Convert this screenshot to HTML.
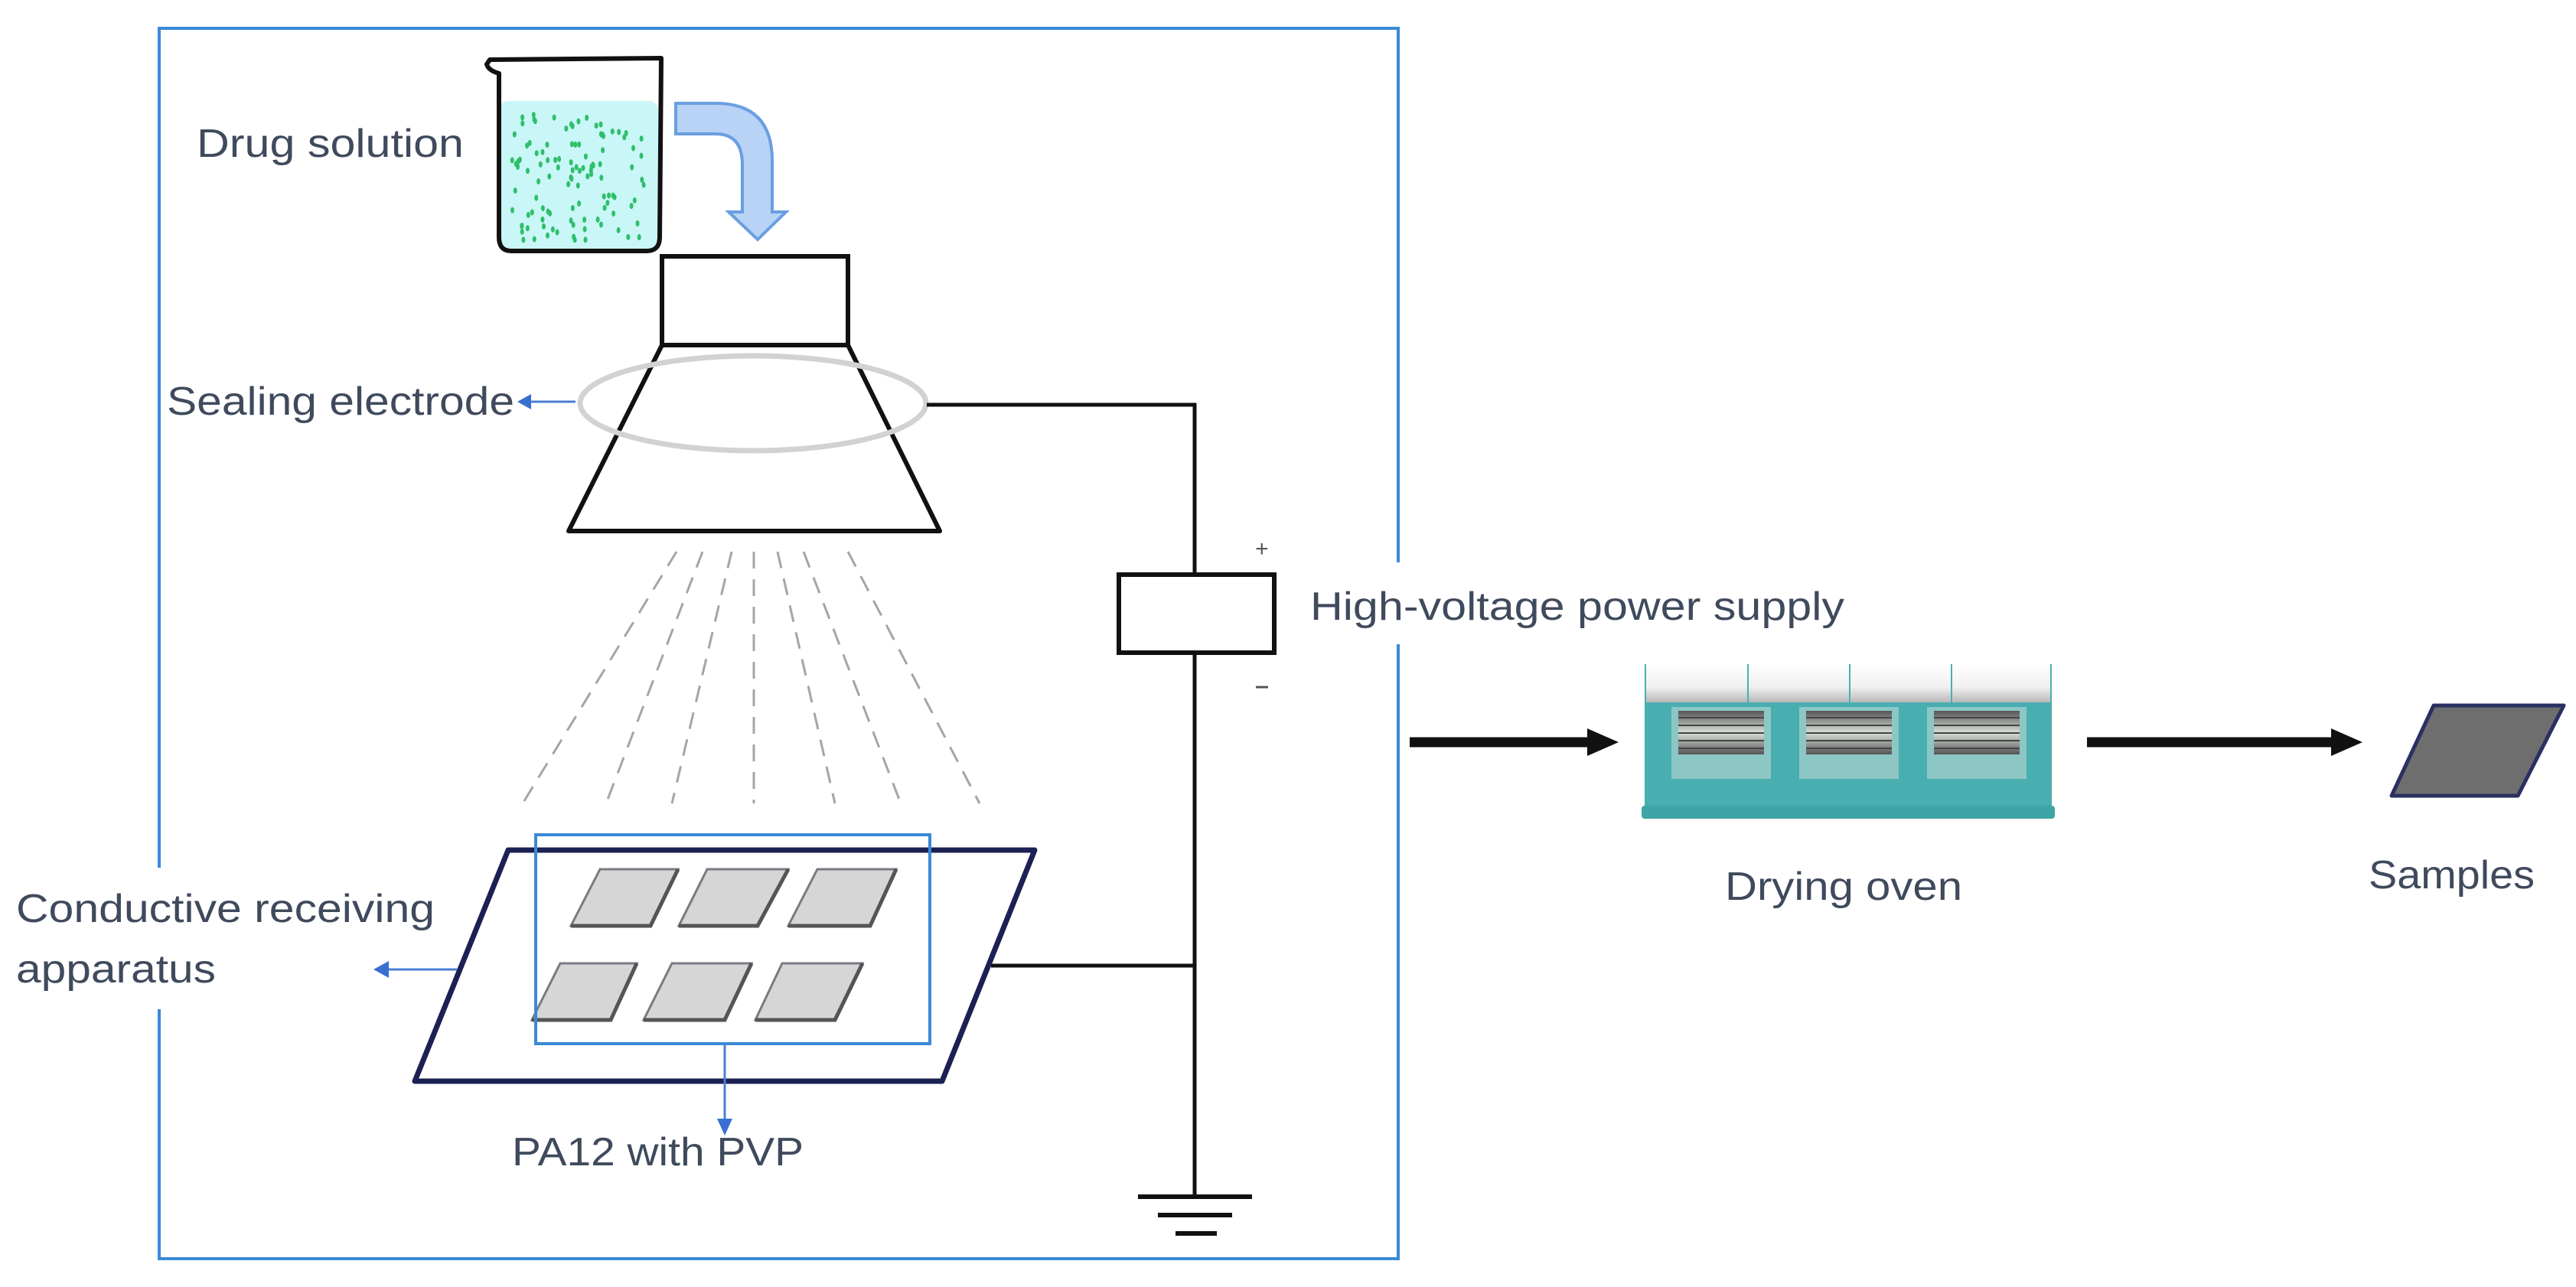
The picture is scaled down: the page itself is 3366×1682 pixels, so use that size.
<!DOCTYPE html>
<html><head><meta charset="utf-8"><style>
html,body{margin:0;padding:0;background:#fff;}
svg{display:block;}
text{font-family:"Liberation Sans",sans-serif;fill:#3f4a5c;}
</style></head><body>
<svg id="s" width="3366" height="1682" viewBox="0 0 3366 1682" xmlns="http://www.w3.org/2000/svg">
<defs>
<linearGradient id="wg" x1="0" y1="0" x2="0" y2="1"><stop offset="0" stop-color="#ffffff"/><stop offset="0.6" stop-color="#f0f0f0"/><stop offset="1" stop-color="#b8b8b8"/></linearGradient>
<linearGradient id="sl" x1="0" y1="0" x2="0" y2="1"><stop offset="0" stop-color="#555"/><stop offset="0.5" stop-color="#d8e0d8"/><stop offset="1" stop-color="#555"/></linearGradient>
</defs>
<!-- outer box -->
<rect x="208" y="37" width="1619" height="1608" fill="none" stroke="#3a8ad6" stroke-width="4"/>
<!-- beaker -->
<rect x="652" y="132" width="208" height="194" rx="12" fill="#c9f7f7"/>
<path d="M640 78 L864 76 L862 310 Q862 328 845 328 L668 328 Q652 328 652 310 L652 96 Q638 92 636 84 Z" fill="none" stroke="#111" stroke-width="6" stroke-linejoin="round"/>
<g id="dots" fill="#2fbf6a"></g>
<!-- curved arrow -->
<path d="M883 135 L935 135 Q1009 135 1009 210 L1009 277 L1027 277 L990 313 L952 277 L970 277 L970 215 Q970 175 935 175 L883 175 Z" fill="#b8d3f5" stroke="#6a9fe0" stroke-width="4"/>
<!-- nozzle -->
<rect x="865" y="335" width="243" height="116" fill="#fff" stroke="#111" stroke-width="6"/>
<path d="M865 451 L1108 451 L1228 694 L743 694 Z" fill="none" stroke="#111" stroke-width="6" stroke-linejoin="round"/>
<ellipse cx="984" cy="527" rx="226" ry="62" fill="none" stroke="#d2d2d2" stroke-width="7"/>
<!-- sealing arrow -->
<line x1="752" y1="525" x2="690" y2="525" stroke="#4a7fd4" stroke-width="3"/>
<path d="M676 525 L694 515 L694 535 Z" fill="#3a6fd0"/>
<!-- wires -->
<polyline points="1211,529 1561,529 1561,751" fill="none" stroke="#111" stroke-width="5"/>
<rect x="1462" y="751" width="203" height="102" fill="#fff" stroke="#111" stroke-width="6"/>
<line x1="1561" y1="853" x2="1561" y2="1564" stroke="#111" stroke-width="5"/>
<line x1="1295" y1="1262" x2="1561" y2="1262" stroke="#111" stroke-width="5"/>
<line x1="1487" y1="1564" x2="1636" y2="1564" stroke="#111" stroke-width="6"/>
<line x1="1513" y1="1588" x2="1610" y2="1588" stroke="#111" stroke-width="6"/>
<line x1="1536" y1="1612" x2="1590" y2="1612" stroke="#111" stroke-width="6"/>
<text x="1640" y="727" style="font-size:30px;fill:#555">+</text>
<line x1="1641" y1="898" x2="1657" y2="898" stroke="#555" stroke-width="3"/>
<!-- dashed spray -->
<g stroke="#a5a5a5" stroke-width="3" stroke-dasharray="22 14">
<line x1="884" y1="721" x2="683" y2="1050"/><line x1="918" y1="721" x2="792" y2="1050"/>
<line x1="956" y1="721" x2="878" y2="1050"/><line x1="985" y1="721" x2="985" y2="1050"/>
<line x1="1016" y1="721" x2="1091" y2="1050"/><line x1="1050" y1="721" x2="1177" y2="1050"/>
<line x1="1108" y1="721" x2="1280" y2="1050"/>
</g>
<!-- label backgrounds over box lines -->
<rect x="196" y="1134" width="26" height="185" fill="#fff"/>
<rect x="1815" y="735" width="26" height="107" fill="#fff"/>
<!-- plate -->
<path d="M664 1111 L1352 1111 L1231 1413 L542 1413 Z" fill="#fff" stroke="#1b2152" stroke-width="7" stroke-linejoin="round"/>
<g fill="#d6d6d6" stroke="#7a7a84" stroke-width="3">
<path d="M784 1136 L886 1136 L850 1210 L746 1210 Z"/><path d="M924 1136 L1030 1136 L990 1210 L887 1210 Z"/><path d="M1068 1136 L1171 1136 L1137 1210 L1030 1210 Z"/>
<path d="M732 1259 L832 1259 L798 1333 L695 1333 Z"/><path d="M878 1259 L982 1259 L947 1333 L841 1333 Z"/><path d="M1022 1259 L1127 1259 L1091 1333 L987 1333 Z"/>
</g>
<g fill="none" stroke="#555" stroke-width="5">
<path d="M886 1136 L850 1210 L746 1210"/><path d="M1030 1136 L990 1210 L887 1210"/><path d="M1171 1136 L1137 1210 L1030 1210"/>
<path d="M832 1259 L798 1333 L695 1333"/><path d="M982 1259 L947 1333 L841 1333"/><path d="M1127 1259 L1091 1333 L987 1333"/>
</g>
<rect x="700" y="1091" width="515" height="273" fill="none" stroke="#3a8ad6" stroke-width="4"/>
<line x1="947" y1="1364" x2="947" y2="1470" stroke="#4a7fd4" stroke-width="3"/>
<path d="M947 1484 L937 1462 L957 1462 Z" fill="#3a6fd0"/>
<line x1="597" y1="1267" x2="505" y2="1267" stroke="#4a7fd4" stroke-width="3"/>
<path d="M488 1267 L508 1256 L508 1278 Z" fill="#3a6fd0"/>
<text x="257" y="205" textLength="349" lengthAdjust="spacingAndGlyphs" style="font-size:52px">Drug solution</text>
<text x="218" y="542" textLength="454" lengthAdjust="spacingAndGlyphs" style="font-size:52px">Sealing electrode</text>
<text x="1712" y="810" textLength="698" lengthAdjust="spacingAndGlyphs" style="font-size:52px">High-voltage power supply</text>
<text x="21" y="1205" textLength="547" lengthAdjust="spacingAndGlyphs" style="font-size:52px">Conductive receiving</text>
<text x="21" y="1284" textLength="261" lengthAdjust="spacingAndGlyphs" style="font-size:52px">apparatus</text>
<text x="669" y="1523" textLength="381" lengthAdjust="spacingAndGlyphs" style="font-size:52px">PA12 with PVP</text>
<text x="2254" y="1176" textLength="310" lengthAdjust="spacingAndGlyphs" style="font-size:52px">Drying oven</text>
<text x="3095" y="1161" textLength="217" lengthAdjust="spacingAndGlyphs" style="font-size:52px">Samples</text>
<!-- arrows -->
<line x1="1842" y1="970" x2="2080" y2="970" stroke="#111" stroke-width="13"/>
<path d="M2115 970 L2074 952 L2074 988 Z" fill="#111"/>
<line x1="2727" y1="970" x2="3050" y2="970" stroke="#111" stroke-width="13"/>
<path d="M3087 970 L3046 952 L3046 988 Z" fill="#111"/>
<!-- oven -->
<rect x="2149" y="868" width="532" height="50" fill="url(#wg)"/>
<g stroke="#4ab0b0" stroke-width="2"><line x1="2150" y1="868" x2="2150" y2="918"/><line x1="2284" y1="868" x2="2284" y2="918"/><line x1="2417" y1="868" x2="2417" y2="918"/><line x1="2550" y1="868" x2="2550" y2="918"/><line x1="2680" y1="868" x2="2680" y2="918"/></g>
<rect x="2149" y="918" width="532" height="140" fill="#48aeb0"/>
<rect x="2145" y="1053" width="540" height="17" rx="4" fill="#3fa4a6"/>
<g>
<rect x="2184" y="924" width="130" height="94" fill="#8cc7c6"/><rect x="2193" y="929" width="112" height="57" fill="url(#sl)"/>
<rect x="2351" y="924" width="130" height="94" fill="#8cc7c6"/><rect x="2360" y="929" width="112" height="57" fill="url(#sl)"/>
<rect x="2518" y="924" width="130" height="94" fill="#8cc7c6"/><rect x="2527" y="929" width="112" height="57" fill="url(#sl)"/>
</g>
<g stroke="#444" stroke-width="2">
<line x1="2193" y1="938" x2="2305" y2="938"/><line x1="2193" y1="948" x2="2305" y2="948"/><line x1="2193" y1="958" x2="2305" y2="958"/><line x1="2193" y1="968" x2="2305" y2="968"/><line x1="2193" y1="978" x2="2305" y2="978"/>
<line x1="2360" y1="938" x2="2472" y2="938"/><line x1="2360" y1="948" x2="2472" y2="948"/><line x1="2360" y1="958" x2="2472" y2="958"/><line x1="2360" y1="968" x2="2472" y2="968"/><line x1="2360" y1="978" x2="2472" y2="978"/>
<line x1="2527" y1="938" x2="2639" y2="938"/><line x1="2527" y1="948" x2="2639" y2="948"/><line x1="2527" y1="958" x2="2639" y2="958"/><line x1="2527" y1="968" x2="2639" y2="968"/><line x1="2527" y1="978" x2="2639" y2="978"/>
</g>
<!-- sample -->
<path d="M3180 922 L3350 922 L3290 1040 L3125 1040 Z" fill="#6e6e6e" stroke="#2a3060" stroke-width="5" stroke-linejoin="round"/>
</svg>
<script>
var g=document.getElementById('dots'),s=7;function r(){s=(s*9301+49297)%233280;return s/233280;}
for(var i=0;i<110;i++){var e=document.createElementNS('http://www.w3.org/2000/svg','ellipse');
e.setAttribute('cx',(668+r()*178).toFixed(1));e.setAttribute('cy',(150+r()*165).toFixed(1));e.setAttribute('rx','2.5');e.setAttribute('ry','4');g.appendChild(e);}
</script>
</body></html>
